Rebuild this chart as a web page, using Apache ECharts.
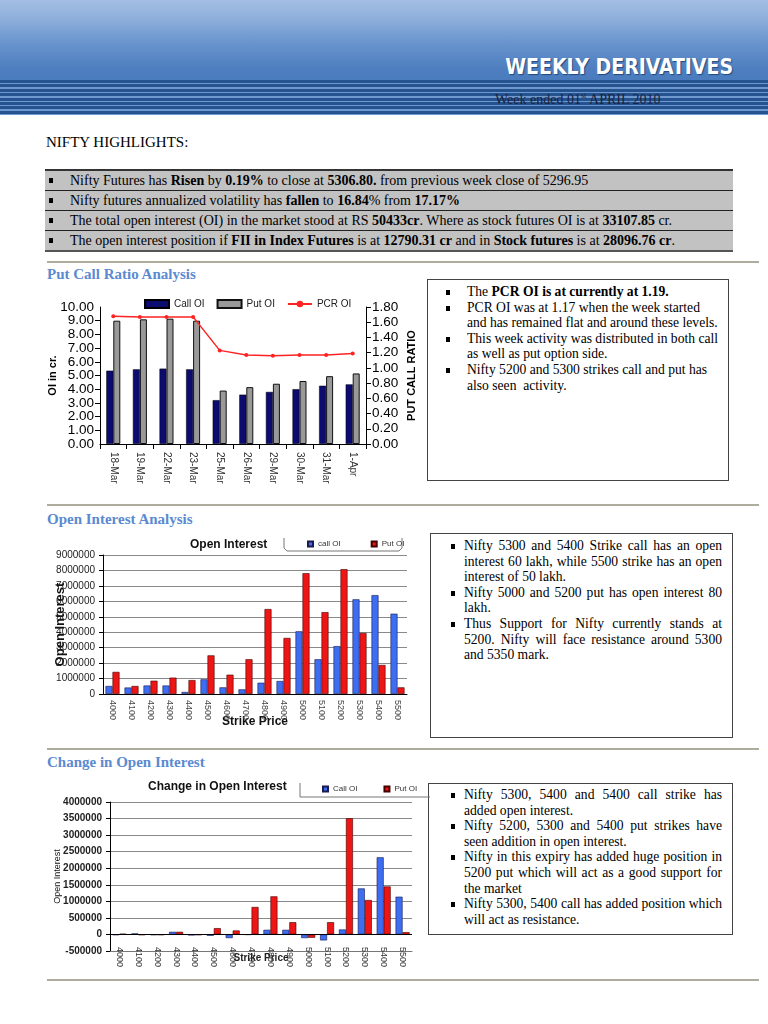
<!DOCTYPE html>
<html><head><meta charset="utf-8">
<script src="https://cdn.jsdelivr.net/npm/echarts/dist/echarts.min.js"></script>
<style>
body{margin:0;background:#fff;}
#page{position:relative;width:768px;height:1024px;overflow:hidden;font-family:'Liberation Serif',serif;color:#000;background:#fff;}
.hdr{position:absolute;left:0;top:0;width:768px;height:80px;background:linear-gradient(#a3bee3 0px,#90b0dc 18px,#6a95ce 42px,#4f7fc0 68px,#4a7bbd 80px);}
.stripes{position:absolute;left:0;top:80px;width:768px;height:35px;background:repeating-linear-gradient(to bottom,#24538f 0px,#24538f 3px,#6f98cf 3px,#6f98cf 4.4px);}
.title{position:absolute;right:35px;top:55px;font:bold 21px 'DejaVu Sans Condensed',sans-serif;color:#fff;letter-spacing:0px;text-shadow:1px 1px 1px #23497e;}
.week{position:absolute;left:495px;top:91px;font:14px 'Liberation Serif',serif;color:#1b2340;}
.week sup{font-size:8px;vertical-align:6px;}
.nh{position:absolute;left:46px;top:134px;font:15px 'Liberation Serif',serif;}
.tbl{position:absolute;left:45px;top:169px;width:688px;background:#c2c2c2;border-top:2px solid #333;border-bottom:2px solid #555;}
.row{position:relative;height:19px;line-height:19px;font-size:14px;padding-left:25px;border-bottom:1px solid #222;white-space:nowrap;}
.row:last-child{border-bottom:none;}
.row .b{position:absolute;left:4px;top:7px;width:4px;height:5px;background:#000;}
.rule{position:absolute;left:47px;width:712px;height:2px;background:#aeac9c;}
.sec{position:absolute;left:47px;font:bold 15px 'Liberation Serif',serif;color:#5b8ad0;}
.box{position:absolute;border:1.5px solid #444;background:#fff;box-sizing:border-box;font:13.6px 'Liberation Serif',serif;line-height:15.6px;}
.box ul{margin:0;padding:0;list-style:none;}
.box li{position:relative;}
.box li .b{position:absolute;top:6px;width:4px;height:5px;background:#000;}
.just li{text-align:justify;}
.chart{position:absolute;}
</style></head>
<body><div id="page">
<div class="hdr"></div>
<div class="stripes"></div>
<div class="title">WEEKLY DERIVATIVES</div>
<div class="week">Week ended 01<sup>st</sup> APRIL 2010</div>
<div class="nh">NIFTY HIGHLIGHTS:</div>
<div class="tbl">
 <div class="row"><span class="b"></span>Nifty Futures has <b>Risen</b> by <b>0.19%</b> to close at <b>5306.80.</b> from previous week close of 5296.95</div>
 <div class="row"><span class="b"></span>Nifty futures annualized volatility has <b>fallen</b> to <b>16.84</b>% from <b>17.17%</b></div>
 <div class="row"><span class="b"></span>The total open interest (OI) in the market stood at RS <b>50433cr</b>. Where as stock futures OI is at <b>33107.85</b> cr.</div>
 <div class="row"><span class="b"></span>The open interest position if <b>FII in Index Futures</b> is at <b>12790.31 cr</b> and in <b>Stock futures</b> is at <b>28096.76 cr</b>.</div>
</div>

<div class="rule" style="top:261px"></div>
<div class="sec" style="top:266px">Put Call Ratio Analysis</div>
<div class="box" style="left:427px;top:279px;width:302px;height:202px;padding:4px 6px 0 39px;">
<ul>
<li><span class="b" style="left:-21px"></span>The <b>PCR OI is at currently at 1.19.</b></li>
<li><span class="b" style="left:-21px"></span>PCR OI was at 1.17 when the week started and has remained flat and around these levels.</li>
<li><span class="b" style="left:-21px"></span>This week activity was distributed in both call as well as put option side.</li>
<li><span class="b" style="left:-21px"></span>Nifty 5200 and 5300 strikes call and put has also seen&nbsp; activity.</li>
</ul></div>

<div class="rule" style="top:504px"></div>
<div class="sec" style="top:511px">Open Interest Analysis</div>
<div class="box just" style="left:430px;top:533px;width:303px;height:205px;padding:4px 10px 0 33px;">
<ul>
<li><span class="b" style="left:-13px"></span>Nifty 5300 and 5400 Strike call has an open interest 60 lakh, while 5500 strike has an open interest of 50 lakh.</li>
<li><span class="b" style="left:-13px"></span>Nifty 5000 and 5200 put has open interest 80 lakh.</li>
<li><span class="b" style="left:-13px"></span>Thus Support for Nifty currently stands at 5200. Nifty will face resistance around 5300 and 5350 mark.</li>
</ul></div>

<div class="rule" style="top:748px"></div>
<div class="sec" style="top:754px">Change in Open Interest</div>
<div class="box just" style="left:428px;top:783px;width:305px;height:152px;padding:3px 10px 0 35px;">
<ul>
<li><span class="b" style="left:-13px"></span>Nifty 5300, 5400 and 5400 call strike has added open interest.</li>
<li><span class="b" style="left:-13px"></span>Nifty 5200, 5300 and 5400 put strikes have seen addition in open interest.</li>
<li><span class="b" style="left:-13px"></span>Nifty in this expiry has added huge position in 5200 put which will act as a good support for the market</li>
<li><span class="b" style="left:-13px"></span>Nifty 5300, 5400 call has added position which will act as resistance.</li>
</ul></div>

<div class="rule" style="top:979px"></div>

<div id="c1" class="chart" style="left:30px;top:290px;width:400px;height:210px;"></div>
<div id="c2" class="chart" style="left:30px;top:530px;width:400px;height:210px;"></div>
<div id="c3" class="chart" style="left:30px;top:775px;width:400px;height:205px;"></div>
</div>
<script>
// ---- Put Call Ratio data ----
const pcrDates = ['18-Mar','19-Mar','22-Mar','23-Mar','25-Mar','26-Mar','29-Mar','30-Mar','31-Mar','1-Apr'];
const pcrCallOI = [5.35,5.45,5.50,5.45,3.20,3.60,3.80,4.00,4.25,4.35];
const pcrPutOI = [9.00,9.10,9.15,9.00,3.90,4.15,4.40,4.60,4.95,5.15];
const pcrRatio = [1.68,1.67,1.67,1.67,1.23,1.17,1.16,1.17,1.17,1.19];

// ---- Open Interest data ----
const strikes = ['4000','4100','4200','4300','4400','4500','4600','4700','4800','4900','5000','5100','5200','5300','5400','5500'];
const oiCall = [520000,420000,550000,550000,130000,950000,430000,300000,730000,840000,4060000,2250000,3100000,6130000,6400000,5200000];
const oiPut = [1430000,520000,860000,1060000,900000,2500000,1250000,2250000,5500000,3630000,7820000,5300000,8080000,3950000,1880000,430000];

// ---- Change in Open Interest data ----
const chgCall = [-20000,30000,-20000,80000,-30000,-40000,-110000,-10000,140000,140000,-110000,-180000,150000,1390000,2330000,1140000];
const chgPut = [20000,-20000,-20000,80000,-20000,190000,120000,830000,1150000,370000,-100000,370000,3510000,1040000,1450000,70000];

const SANS = 'Liberation Sans';
const plain = v => String(v);
const lblStyle = {fontFamily:SANS,fontSize:13.5,color:'#000',margin:6,hideOverlap:false};

// Chart 1
const c1 = echarts.init(document.getElementById('c1'));
c1.setOption({
  animation:false,
  grid:{left:70,top:17,right:64,bottom:56},
  legend:{left:114,top:9,padding:0,itemWidth:24,itemHeight:8,itemGap:12,
    textStyle:{fontFamily:SANS,fontSize:10,color:'#222'},
    data:[{name:'Call OI',icon:'rect'},{name:'Put OI',icon:'rect'},'PCR OI']},
  xAxis:{type:'category',data:pcrDates,
    axisLine:{lineStyle:{color:'#000',width:1}},
    axisTick:{show:true,length:5,lineStyle:{color:'#000'}},
    axisLabel:{rotate:-90,interval:0,fontFamily:SANS,fontSize:10,color:'#333',margin:8}},
  yAxis:[
    {type:'value',min:0,max:10,interval:1,
     name:'OI in cr.',nameLocation:'middle',nameGap:42,nameRotate:90,nameMoveOverlap:false,
     nameTextStyle:{fontFamily:SANS,fontSize:11,fontWeight:'bold',color:'#000'},
     axisLine:{show:true,lineStyle:{color:'#000'}},
     axisTick:{show:true,length:5,lineStyle:{color:'#000'}},
     splitLine:{show:false},
     axisLabel:Object.assign({formatter:v=>(Math.round(v)%2===1?v.toFixed(2):''),showMinLabel:false,showMaxLabel:false},lblStyle)},
    {type:'value',min:0,max:1.8,interval:0.2,position:'right',
     name:'PUT CALL RATIO',nameLocation:'middle',nameGap:40,nameRotate:90,nameMoveOverlap:false,
     nameTextStyle:{fontFamily:SANS,fontSize:11,fontWeight:'bold',color:'#000'},
     axisLine:{show:true,lineStyle:{color:'#000'}},
     axisTick:{show:true,length:5,lineStyle:{color:'#000'}},
     splitLine:{show:false},
     axisLabel:Object.assign({formatter:v=>v.toFixed(2),showMinLabel:true,showMaxLabel:true},lblStyle)},
    {type:'value',min:0,max:10,interval:2,position:'left',offset:0,
     axisLine:{show:false},axisTick:{show:false},splitLine:{show:false},
     axisLabel:Object.assign({formatter:v=>v.toFixed(2),showMinLabel:true,showMaxLabel:true},lblStyle)}
  ],
  series:[
    {name:'Call OI',type:'bar',data:pcrCallOI,barWidth:7,barGap:'0%',
     itemStyle:{color:'#0b0b70',borderColor:'#000',borderWidth:0.5}},
    {name:'Put OI',type:'bar',data:pcrPutOI,barWidth:7,barGap:'0%',
     itemStyle:{color:'#999999',borderColor:'#111',borderWidth:1}},
    {name:'PCR OI',type:'line',yAxisIndex:1,data:pcrRatio,symbol:'circle',symbolSize:4,
     lineStyle:{color:'#f22',width:1.5},itemStyle:{color:'#f22'}}
  ]
});

// Chart 2
const c2 = echarts.init(document.getElementById('c2'));
c2.setOption({
  animation:false,
  title:{text:'Open Interest',left:160,top:9,padding:0,textStyle:{fontFamily:SANS,fontSize:12,fontWeight:'bold',color:'#111'}},
  graphic:[{type:'polyline',shape:{points:[[254,8],[254,18],[257,21],[369,21],[372,18],[372,8]]},style:{fill:'none',stroke:'#777',lineWidth:1}}],
  legend:{left:277,top:10,padding:0,itemWidth:5,itemHeight:5,itemGap:30,icon:'rect',
    textStyle:{fontFamily:SANS,fontSize:8,color:'#333'},data:['call OI','Put OI']},
  grid:{left:73,top:25,right:23,bottom:46},
  xAxis:{type:'category',data:strikes,
    name:'Strike Price',nameLocation:'middle',nameGap:22,nameMoveOverlap:false,
    nameTextStyle:{fontFamily:SANS,fontSize:12,fontWeight:'bold',color:'#111'},
    axisLine:{lineStyle:{color:'#000'}},
    axisTick:{length:4,lineStyle:{color:'#000'}},
    axisLabel:{rotate:-90,interval:0,fontFamily:SANS,fontSize:9,color:'#444',margin:6}},
  yAxis:{type:'value',min:0,max:9000000,interval:1000000,
    name:'Open Interest',nameLocation:'middle',nameGap:36,nameRotate:90,nameMoveOverlap:false,
    nameTextStyle:{fontFamily:SANS,fontSize:13,fontWeight:'bold',color:'#111'},
    axisLine:{show:true,lineStyle:{color:'#000'}},
    axisTick:{show:true,length:4,lineStyle:{color:'#000'}},
    splitLine:{lineStyle:{color:'#8a8a8a',width:1}},
    axisLabel:{formatter:plain,showMinLabel:true,showMaxLabel:true,fontFamily:SANS,fontSize:10,color:'#222',margin:8}},
  series:[
    {name:'call OI',type:'bar',data:oiCall,barWidth:7,barGap:'0%',
     itemStyle:{color:'#3d6ef2',borderColor:'#1a1a50',borderWidth:0.6}},
    {name:'Put OI',type:'bar',data:oiPut,barWidth:7,barGap:'0%',
     itemStyle:{color:'#ee1515',borderColor:'#400',borderWidth:0.6}}
  ]
});

// Chart 3
const c3 = echarts.init(document.getElementById('c3'));
c3.setOption({
  animation:false,
  title:{text:'Change in Open Interest',left:118,top:6,padding:0,textStyle:{fontFamily:SANS,fontSize:12,fontWeight:'bold',color:'#111'}},
  graphic:[{type:'polyline',shape:{points:[[270,8],[270,22],[400,22]]},style:{fill:'none',stroke:'#777',lineWidth:1}}],
  legend:{left:292,top:10,padding:0,itemWidth:5,itemHeight:5,itemGap:26,icon:'rect',
    textStyle:{fontFamily:SANS,fontSize:8,color:'#333'},data:['Call OI','Put OI']},
  grid:{left:80,top:27,right:18,bottom:29},
  xAxis:{type:'category',data:strikes,
    name:'Strike Price',nameLocation:'middle',nameGap:2,nameMoveOverlap:false,
    nameTextStyle:{fontFamily:SANS,fontSize:10,fontWeight:'bold',color:'#222'},
    axisLine:{onZero:false,lineStyle:{color:'#777'}},
    axisTick:{show:false},
    axisLabel:{rotate:-90,interval:0,fontFamily:SANS,fontSize:9,color:'#333',margin:-4}},
  yAxis:{type:'value',min:-500000,max:4000000,interval:500000,
    name:'Open Interest',nameLocation:'middle',nameGap:48,nameRotate:90,nameMoveOverlap:false,
    nameTextStyle:{fontFamily:SANS,fontSize:9,color:'#111'},
    axisLine:{show:true,lineStyle:{color:'#000'}},
    axisTick:{show:true,length:4,lineStyle:{color:'#000'}},
    splitLine:{lineStyle:{color:'#8a8a8a',width:1}},
    axisLabel:{formatter:plain,showMinLabel:true,showMaxLabel:true,fontFamily:SANS,fontSize:10,fontWeight:'bold',color:'#222',margin:8}},
  series:[
    {name:'Call OI',type:'bar',data:chgCall,barWidth:7,barGap:'0%',
     itemStyle:{color:'#3d6ef2',borderColor:'#1a1a50',borderWidth:0.6},
     markLine:{silent:true,symbol:'none',label:{show:false},lineStyle:{color:'#000',width:1,type:'solid'},data:[{yAxis:0}]}},
    {name:'Put OI',type:'bar',data:chgPut,barWidth:7,barGap:'0%',
     itemStyle:{color:'#ee1515',borderColor:'#400',borderWidth:0.6}}
  ]
});
</script>
</body></html>
